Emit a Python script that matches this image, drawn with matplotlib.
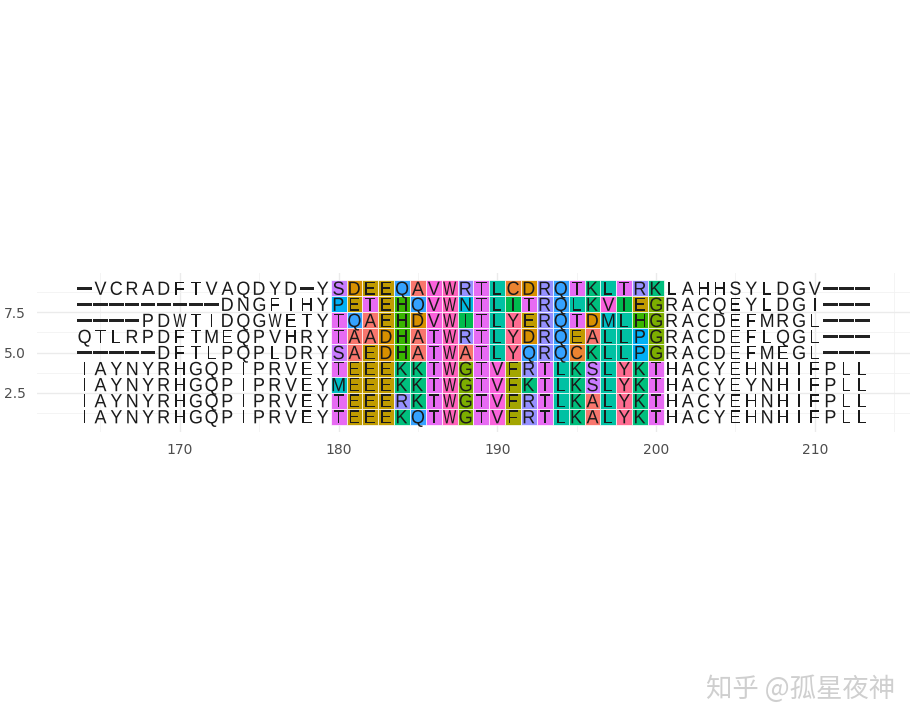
import matplotlib
matplotlib.use("Agg")
from matplotlib import pyplot as plt
from matplotlib.textpath import TextPath
from matplotlib.font_manager import FontProperties
from matplotlib.patches import PathPatch, Rectangle
from matplotlib.transforms import Affine2D
from matplotlib.ticker import MultipleLocator

# alignment, top row first
seqs = [
    "-VCRADFTVAQDYD-YSDEEQAVWRTLCDRQTKLTRKLAHHSYLDGV---",
    "---------DNGFIHYPETEHQVWNTLITRQLKVIEGRACQEYLDGI---",
    "----PDWTIDQGWETYTQAEHDVWITLYERQTDMLHGRACDEFMRGL---",
    "QTLRPDFTMEQPVHRYTAADHATWRTLYDRQEALLPGRACDEFLQGL---",
    "-----DFTLPQPLDRYSAEDHATWATLYQRQCKLLPGRACDEFMEGL---",
    "IAYNYRHGQPIPRVEYTEEEKKTWGTVFRTLKSLYKTHACYEHNHIFPLL",
    "IAYNYRHGQPIPRVEYMEEEKKTWGTVFKTLKSLYKTHACYEYNHIFPLL",
    "IAYNYRHGQPIPRVEYTEEERKTWGTVFRTLKALYKTHACYEHNHIFPLL",
    "IAYNYRHGQPIPRVEYTEEEKQTWGTVFRTLKALYKTHACYEHNHIFPLL",
]
start_pos = 164
color_from = 180
color_to = 200

# ggplot default hue palette over the 20 amino acids
aa = list("ACDEFGHIKLMNPQRSTVWY")
aa_cols = ["#F8766D", "#EA8331", "#D89000", "#C09B00", "#A3A500", "#7CAE00",
           "#39B600", "#00BB4E", "#00BF7D", "#00C1A3", "#00BFC4", "#00BAE0",
           "#00B0F6", "#35A2FF", "#9590FF", "#C77CFF", "#E76BF3", "#FA62DB",
           "#FF62BC", "#FF6C91"]
pal = dict(zip(aa, aa_cols))

fig = plt.figure(figsize=(9.17, 7.27), dpi=100)
ax = fig.add_axes([37 / 917, (727 - 432) / 727, (910 - 37) / 917, (432 - 273) / 727])

fp = FontProperties(family="Liberation Sans")
nrow = len(seqs)

# scale every glyph by the cap height of H so baselines line up
hb = TextPath((0, 0), "H", size=1, prop=fp).get_extents()
sy = 0.82 / hb.height
sx0 = sy * 0.95

for i, s in enumerate(seqs):
    y = nrow - i
    for j, ch in enumerate(s):
        x = start_pos + j
        if color_from <= x <= color_to and ch in pal:
            ax.add_patch(Rectangle((x - 0.5, y - 0.5), 1, 1, facecolor=pal[ch],
                                   edgecolor="white", lw=0.5, zorder=2))
        if ch == "-":
            ax.add_patch(Rectangle((x - 0.45, y - 0.08), 0.9, 0.16,
                                   facecolor="#222222", lw=0, zorder=3))
            continue
        tp = TextPath((0, 0), ch, size=1, prop=fp)
        bb = tp.get_extents()
        sx = sx0
        if bb.width * sx > 0.82:
            sx = 0.82 / bb.width
        tr = (Affine2D().translate(-(bb.x0 + bb.width / 2), -hb.y0)
              .scale(sx, sy).translate(x, y - 0.41))
        ax.add_patch(PathPatch(tr.transform_path(tp), facecolor="#1a1a1a",
                               lw=0, zorder=4))

ax.set_xlim(161, 216)
ax.set_ylim(0.05, 9.95)
ax.xaxis.set_major_locator(MultipleLocator(10))
ax.xaxis.set_minor_locator(MultipleLocator(5))
ax.yaxis.set_major_locator(MultipleLocator(2.5))
ax.yaxis.set_minor_locator(MultipleLocator(1.25))
ax.set_yticks([2.5, 5.0, 7.5])
ax.set_yticklabels(["2.5", "5.0", "7.5"])
ax.grid(which="major", color="#ebebeb", lw=1.0, zorder=0)
ax.grid(which="minor", color="#f2f2f2", lw=0.6, zorder=0)
ax.set_axisbelow(True)
for sp in ax.spines.values():
    sp.set_visible(False)
ax.tick_params(which="both", length=0, labelsize=10, labelcolor="#4d4d4d", pad=8)

fig.text(0.976, 0.052, "知乎 @孤星夜神", ha="right", va="center", fontsize=19,
         color="#cfcfcf", family=["Noto Sans CJK SC", "DejaVu Sans"])

fig.savefig("out.png", dpi=100)
